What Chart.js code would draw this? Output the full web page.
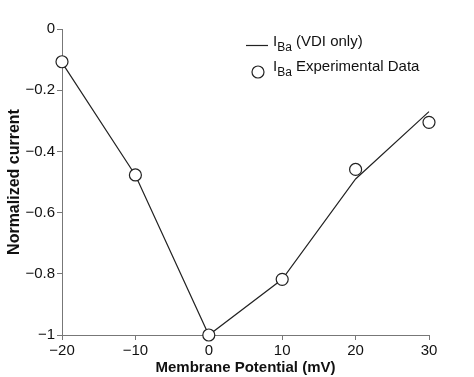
<!DOCTYPE html>
<html>
<head>
<meta charset="utf-8">
<script src="https://cdn.jsdelivr.net/npm/chart.js@4/dist/chart.umd.min.js"></script>
<style>
html,body{margin:0;padding:0;background:#fff;}
#wrap{position:relative;width:474px;height:377px;}
</style>
</head>
<body>
<div id="wrap"><canvas id="c" width="474" height="377"></canvas></div>
<script>
const potentials = [-20, -10, 0, 10, 20, 30];
const modelCurrent = [-0.11, -0.478, -1.0, -0.818, -0.49, -0.27];
const expCurrent = [-0.107, -0.477, -1.0, -0.818, -0.459, -0.305];
const xTicks = [-20, -10, 0, 10, 20, 30];
const yTicks = [0, -0.2, -0.4, -0.6, -0.8, -1];
const legendLabels = [
  {main: 'I', sub: 'Ba', rest: ' (VDI only)'},
  {main: 'I', sub: 'Ba', rest: ' Experimental Data'}
];

const FONT = '"Liberation Sans", Arial, Helvetica, sans-serif';
const fmt = v => {
  if (v === 0) return '0';
  return String(v).replace('-', '\u2212');
};

const legendPlugin = {
  id: 'customLegend',
  afterDraw(chart) {
    const ctx = chart.ctx;
    ctx.save();
    ctx.textBaseline = 'alphabetic';
    ctx.strokeStyle = '#222';
    ctx.lineWidth = 1.2;
    ctx.beginPath(); ctx.moveTo(246, 45.5); ctx.lineTo(268, 45.5); ctx.stroke();
    ctx.beginPath(); ctx.arc(258, 72, 6, 0, Math.PI * 2);
    ctx.fillStyle = '#fff'; ctx.fill(); ctx.stroke();
    ctx.fillStyle = '#111';
    const rows = [46, 71];
    legendLabels.forEach((l, i) => {
      let x = 273;
      const y = rows[i];
      ctx.font = '15px ' + FONT;
      ctx.fillText(l.main, x, y);
      x += ctx.measureText(l.main).width;
      ctx.font = '12px ' + FONT;
      ctx.fillText(l.sub, x, y + 5);
      x += ctx.measureText(l.sub).width;
      ctx.font = '15px ' + FONT;
      ctx.fillText(l.rest, x, y);
    });
    ctx.restore();
  }
};

new Chart(document.getElementById('c'), {
  type: 'scatter',
  data: {
    datasets: [
      {
        label: 'I_Ba Experimental Data',
        data: potentials.map((p, i) => ({x: p, y: expCurrent[i]})),
        showLine: false,
        clip: false,
        pointRadius: 6,
        pointHoverRadius: 6,
        pointBackgroundColor: '#fff',
        pointBorderColor: '#222',
        pointBorderWidth: 1.2,
        order: 0
      },
      {
        label: 'I_Ba (VDI only)',
        data: potentials.map((p, i) => ({x: p, y: modelCurrent[i]})),
        showLine: true,
        clip: false,
        borderColor: '#222',
        borderWidth: 1.2,
        pointRadius: 0,
        tension: 0,
        order: 1
      }
    ]
  },
  options: {
    responsive: false,
    animation: false,
    devicePixelRatio: 1,
    layout: {padding: {top: 29, right: 45, left: 0, bottom: 0}},
    plugins: {legend: {display: false}, tooltip: {enabled: false}},
    scales: {
      x: {
        type: 'linear',
        min: -20, max: 30,
        afterBuildTicks: ax => { ax.ticks = xTicks.map(v => ({value: v})); },
        afterFit: ax => { ax.height = 42; },
        border: {display: true, color: '#777', width: 1},
        grid: {drawOnChartArea: false, drawTicks: true, tickLength: 5, color: '#777'},
        ticks: {
          color: '#111', padding: 2,
          font: {family: FONT, size: 15},
          callback: v => fmt(v),
          maxRotation: 0
        },
        title: {
          display: true, text: 'Membrane Potential (mV)', color: '#111',
          font: {family: FONT, size: 15, weight: 'bold'},
          padding: {top: -3, bottom: 0}
        }
      },
      y: {
        type: 'linear',
        min: -1, max: 0,
        afterBuildTicks: ax => { ax.ticks = yTicks.map(v => ({value: v})); },
        afterFit: ax => { ax.width = 62; },
        border: {display: true, color: '#777', width: 1},
        grid: {drawOnChartArea: false, drawTicks: true, tickLength: 5, color: '#777'},
        ticks: {
          color: '#111', padding: 2,
          font: {family: FONT, size: 15},
          callback: v => fmt(v)
        },
        title: {
          display: true, text: 'Normalized current', color: '#111',
          font: {family: FONT, size: 16, weight: 'bold'},
          padding: {top: 5, bottom: 0}
        }
      }
    }
  },
  plugins: [legendPlugin]
});
</script>
</body>
</html>
